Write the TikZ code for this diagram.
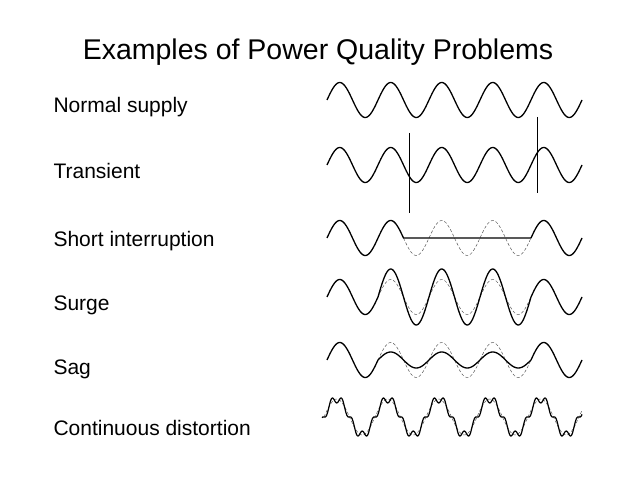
\documentclass[tikz,border=0pt]{standalone}
\usepackage{fontspec}
\setmainfont{Liberation Sans}
\begin{document}
\begin{tikzpicture}[x=1pt,y=-1pt,
  wave/.style={line width=1.3pt,line join=round},
  ref/.style={densely dashed,line width=0.5pt,gray!70!black},
  lab/.style={anchor=west,font=\fontsize{21}{24}\selectfont}]
\useasboundingbox (0,0) rectangle (638,478);
\node[font=\fontsize{28.5}{32}\selectfont] (title) at (318,52) {Examples of Power Quality Problems};
\node[lab] (l1) at (50,107) {Normal supply};
\node[lab] (l2) at (50,171) {Transient};
\node[lab] (l3) at (50,241) {Short interruption};
\node[lab] (l4) at (50,305) {Surge};
\node[lab] (l5) at (50,369) {Sag};
\node[lab] (l6) at (50,428) {Continuous distortion};
\def\P{51}
% normal
\draw[wave] plot[domain=327:582,samples=200] (\x,{100-17.5*sin((\x-327)/\P*360)});
% transient
\draw[wave] plot[domain=327:582,samples=200] (\x,{165-17.5*sin((\x-327)/\P*360)});
\draw[line width=0.9pt] (409,133) -- (409,213);
\draw[line width=0.9pt] (537,117) -- (537,193);
% interruption
\draw[ref] plot[domain=403.5:531,samples=100] (\x,{238-17.5*sin((\x-327)/\P*360)});
\draw[wave] plot[domain=327:403.5,samples=80] (\x,{238-17.5*sin((\x-327)/\P*360)}) -- (531,238)
  -- plot[domain=531:582,samples=60] (\x,{238-17.5*sin((\x-327)/\P*360)});
% surge
\draw[ref] plot[domain=378:531,samples=120] (\x,{297-17.5*sin((\x-327)/\P*360)});
\draw[wave] plot[domain=327:378,samples=60] (\x,{297-17.5*sin((\x-327)/\P*360)})
  -- plot[domain=378:531,samples=150] (\x,{297-28*sin((\x-327)/\P*360)})
  -- plot[domain=531:582,samples=60] (\x,{297-17.5*sin((\x-327)/\P*360)});
% sag
\draw[ref] plot[domain=378:531,samples=120] (\x,{360-17.5*sin((\x-327)/\P*360)});
\draw[wave] plot[domain=327:378,samples=60] (\x,{360-17.5*sin((\x-327)/\P*360)})
  -- plot[domain=378:531,samples=150] (\x,{360-8*sin((\x-327)/\P*360)})
  -- plot[domain=531:582,samples=60] (\x,{360-17.5*sin((\x-327)/\P*360)});
% distortion
\draw[ref] plot[domain=324:582,samples=200] (\x,{417-18*sin((\x-324)/\P*360)});
\draw[wave,line width=1.2pt] plot[domain=322:582,samples=500] (\x,{417-18*(sin((\x-324)/\P*360)-0.22*sin(5*(\x-324)/\P*360))});
\end{tikzpicture}
\end{document}
